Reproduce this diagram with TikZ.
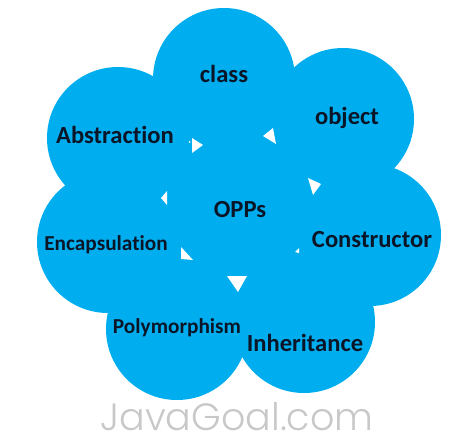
\documentclass[tikz,border=0pt]{standalone}
\usepackage{fontspec}
\setmainfont{Carlito}[Ligatures=NoCommon]
\newfontfamily\wmfont{Poppins Light}
\definecolor{petalblue}{RGB}{0,174,239}
\definecolor{ink}{HTML}{0A1628}
\definecolor{wmgray}{RGB}{200,200,200}
\begin{document}
\begin{tikzpicture}[x=1pt,y=-1pt,
                    petal/.style={circle, fill=petalblue, inner sep=0pt, minimum size=142pt},
                    tag/.style={text=ink, anchor=base, inner sep=0pt,
                                font=\bfseries\fontsize{24.6}{26}\selectfont},
                    small/.style={font=\bfseries\fontsize{21.3}{23}\selectfont},
                    tip/.style={fill=white}]
\useasboundingbox (0,0) rectangle (466,444);

% petals
\node[petal, minimum size=176pt] (hub) at (240,215) {};
\node[petal] (cls) at (224,79) {};
\node[petal] (obj) at (343,119) {};
\node[petal] (abs) at (118,138) {};
\node[petal] (enc) at (108,242) {};
\node[petal] (con) at (370,235) {};
\node[petal] (pol) at (177,329) {};
\node[petal] (inh) at (304,322) {};

% labels
\node[tag] (hubtxt) at (240,217) {OPPs};
\node[tag] (clstxt) at (224,82) {class};
\node[tag] (objtxt) at (347,124) {object};
\node[tag] (abstxt) at (115,143) {Abstraction};
\node[tag, small] (enctxt) at (106,250) {Encapsulation};
\node[tag] (contxt) at (372,247) {Constructor};
\node[tag, small] (poltxt) at (177,333) {Polymorphism};
\node[tag] (inhtxt) at (305,351) {Inheritance};

% arrow tips round the hub
\fill[tip] (192,138) -- (203,145) -- (192,153) -- cycle;
\fill[tip] (263,136) -- (273,128) -- (276,144) -- cycle;
\fill[tip] (308,178) -- (321,184) -- (313,195) -- cycle;
\fill[tip] (161,198) -- (167,191) -- (167,205) -- cycle;
\fill[tip] (181,247) -- (193,260) -- (181,259) -- cycle;
\fill[tip] (227,276) -- (247,276) -- (238,292) -- cycle;
\fill[tip] (295,252) -- (299,248) -- (299,253) -- cycle;

% watermark
\node[text=wmgray, anchor=base, inner sep=0pt,
      font=\wmfont\fontsize{38}{40}\selectfont] (mark) at (237,430) {JavaGoal.com};

\end{tikzpicture}
\end{document}
